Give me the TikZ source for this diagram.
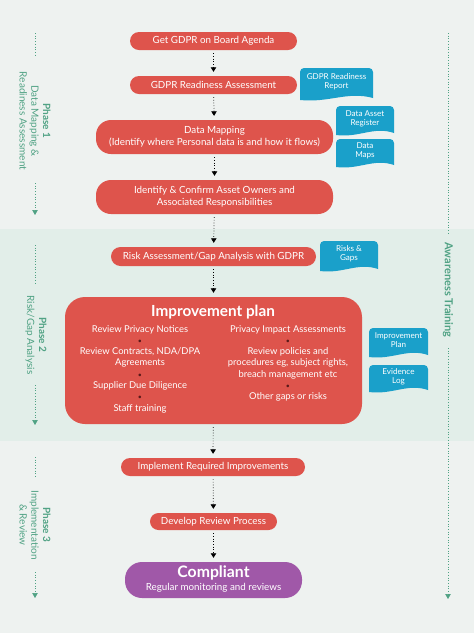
\documentclass[tikz,border=0pt]{standalone}
\usepackage{fontspec}
\setmainfont{Lato}
\usetikzlibrary{arrows.meta}
\definecolor{cbg}{RGB}{238,242,240}
\definecolor{cband}{RGB}{226,238,233}
\definecolor{cred}{RGB}{222,84,76}
\definecolor{cblue}{RGB}{26,160,202}
\definecolor{cpurple}{RGB}{160,88,168}
\definecolor{cgreen}{RGB}{80,162,132}
\definecolor{cdot}{RGB}{90,25,25}
\tikzset{
  redbox/.style={fill=cred, text=white, align=center, inner sep=0pt, font=\fontsize{9.8}{12}\selectfont},
  flow/.style={black, dotted, line width=0.7pt, -{Triangle[width=5.5pt,length=4.5pt]}, shorten >=4pt, shorten <=3pt},
  side/.style={cgreen, dotted, line width=0.7pt},
  sidearrow/.style={cgreen, dotted, line width=0.7pt, -{Triangle[width=5.5pt,length=5pt]}},
  phase/.style={cgreen, rotate=-90, align=center, font=\fontsize{10}{11.8}\selectfont},
  doctext/.style={text=white, align=center, font=\fontsize{8.1}{9}\selectfont, inner sep=0pt},
  plantext/.style={text=white, align=center, font=\fontsize{9.4}{11.3}\selectfont, inner sep=0pt}
}
\newcommand{\docbox}[6]{%
  \fill[cblue, rounded corners=4pt] (#2,#5) -- (#2,#3) -- (#4,#3) [sharp corners] -- (#4,{#5-2})
    .. controls ({#4-0.35*(#4-#2)},{#5-9}) and ({#2+0.4*(#4-#2)},{#5+3}) .. (#2,#5) -- cycle;
  \node[doctext] (#1) at ({(#2+#4)/2},{(#3+#5)/2-2}) {#6};}
\newcommand{\pdot}{{\color{cdot}\fontsize{7}{7}\selectfont •}}
\begin{document}
\begin{tikzpicture}[x=1pt,y=-1pt]
\useasboundingbox (0,0) rectangle (474,633);
\fill[cbg] (0,0) rectangle (474,633);
\fill[cband] (0,229) rectangle (474,441);

% main flow
\node[redbox, minimum width=167pt, minimum height=18pt, rounded corners=9pt] (n1) at (213.5,41) {Get GDPR on Board Agenda};
\node[redbox, minimum width=167pt, minimum height=18pt, rounded corners=9pt] (n2) at (213.5,85) {GDPR Readiness Assessment};
\node[redbox, minimum width=237pt, minimum height=34pt, rounded corners=15pt] (n3) at (214.5,137) {Data Mapping\\(Identify where Personal data is and how it flows)};
\node[redbox, minimum width=237pt, minimum height=34pt, rounded corners=15pt] (n4) at (214.5,197) {Identify \& Confirm Asset Owners and\\Associated Responsibilities};
\node[redbox, minimum width=205pt, minimum height=19pt, rounded corners=9.5pt] (n5) at (213.5,256.5) {Risk Assessment/Gap Analysis with GDPR};
\node[fill=cred, minimum width=297pt, minimum height=127pt, rounded corners=20pt, inner sep=0pt] (n6) at (213.5,360.5) {};
\node[redbox, minimum width=184pt, minimum height=18pt, rounded corners=9pt] (n7) at (213,467) {Implement Required Improvements};
\node[redbox, minimum width=127pt, minimum height=17pt, rounded corners=8.5pt] (n8) at (213.5,521.5) {Develop Review Process};
\node[fill=cpurple, text=white, align=center, inner sep=0pt, minimum width=177pt, minimum height=36pt, rounded corners=17pt] (n9) at (213.5,580) {};

% improvement plan content
\node[text=white, font=\bfseries\fontsize{15.3}{17}\selectfont, inner sep=0pt] (t6) at (213,312) {Improvement plan};
\node[plantext, anchor=north] (c1) at (140,325) {Review Privacy Notices\\\pdot\\Review Contracts, NDA/DPA\\Agreements\\\pdot\\Supplier Due Diligence\\\pdot\\Staff training};
\node[plantext, anchor=north] (c2) at (288,325) {Privacy Impact Assessments\\\pdot\\Review policies and\\procedures eg, subject rights,\\breach management etc\\\pdot\\Other gaps or risks};

% compliant content
\node[text=white, font=\bfseries\fontsize{15.8}{17}\selectfont, inner sep=0pt] (t9) at (213.5,573) {Compliant};
\node[text=white, font=\fontsize{9.8}{11}\selectfont, inner sep=0pt] (s9) at (213.5,587.5) {Regular monitoring and reviews};

% arrows
\draw[flow] (n1) -- (n2);
\draw[flow] (n2) -- (n3);
\draw[flow] (n3) -- (n4);
\draw[flow] (n4) -- (n5);
\draw[flow] (n5) -- (n6);
\draw[flow] (n6) -- (n7);
\draw[flow] (n7) -- (n8);
\draw[flow] (n8) -- (n9);

% documents
\docbox{d1}{300}{68}{373}{100}{GDPR Readiness\\Report}
\docbox{d2}{336}{106}{394}{135}{Data Asset\\Register}
\docbox{d3}{336}{139}{394}{167}{Data\\Maps}
\docbox{d4}{320}{241}{378}{271}{Risks \&\\Gaps}
\docbox{d5}{369}{328}{428}{357}{Improvement\\Plan}
\docbox{d6}{369}{365}{428}{392}{Evidence\\Log}

% phase labels
\node[phase] (ph1) at (35,121) {\textbf{Phase 1}\\Data Mapping \&\\Readiness Assessment};
\node[phase] (ph2) at (36,335) {\textbf{Phase 2}\\Risk/Gap Analysis};
\node[phase] (ph3) at (35,525) {\textbf{Phase 3}\\Implementation\\\& Review};
\node[cgreen, rotate=-90, font=\bfseries\fontsize{11}{12}\selectfont] (aw) at (448,290) {Awareness Training};

\coordinate (a1) at (35,33); \coordinate (a2) at (35,57);
\coordinate (a3) at (35,183); \coordinate (a4) at (35,215);
\coordinate (b1) at (35,245); \coordinate (b2) at (35,283);
\coordinate (b3) at (35,385); \coordinate (b4) at (35,425);
\coordinate (e1) at (35,457); \coordinate (e2) at (35,478);
\coordinate (e3) at (35,572); \coordinate (e4) at (35,598);
\coordinate (r1) at (448,33); \coordinate (r2) at (448,234);
\coordinate (r3) at (448,348); \coordinate (r4) at (448,599);
\draw[side] (a1) -- (a2);
\draw[sidearrow] (a3) -- (a4);
\draw[side] (b1) -- (b2);
\draw[sidearrow] (b3) -- (b4);
\draw[side] (e1) -- (e2);
\draw[sidearrow] (e3) -- (e4);
\draw[side] (r1) -- (r2);
\draw[sidearrow] (r3) -- (r4);
\end{tikzpicture}
\end{document}
